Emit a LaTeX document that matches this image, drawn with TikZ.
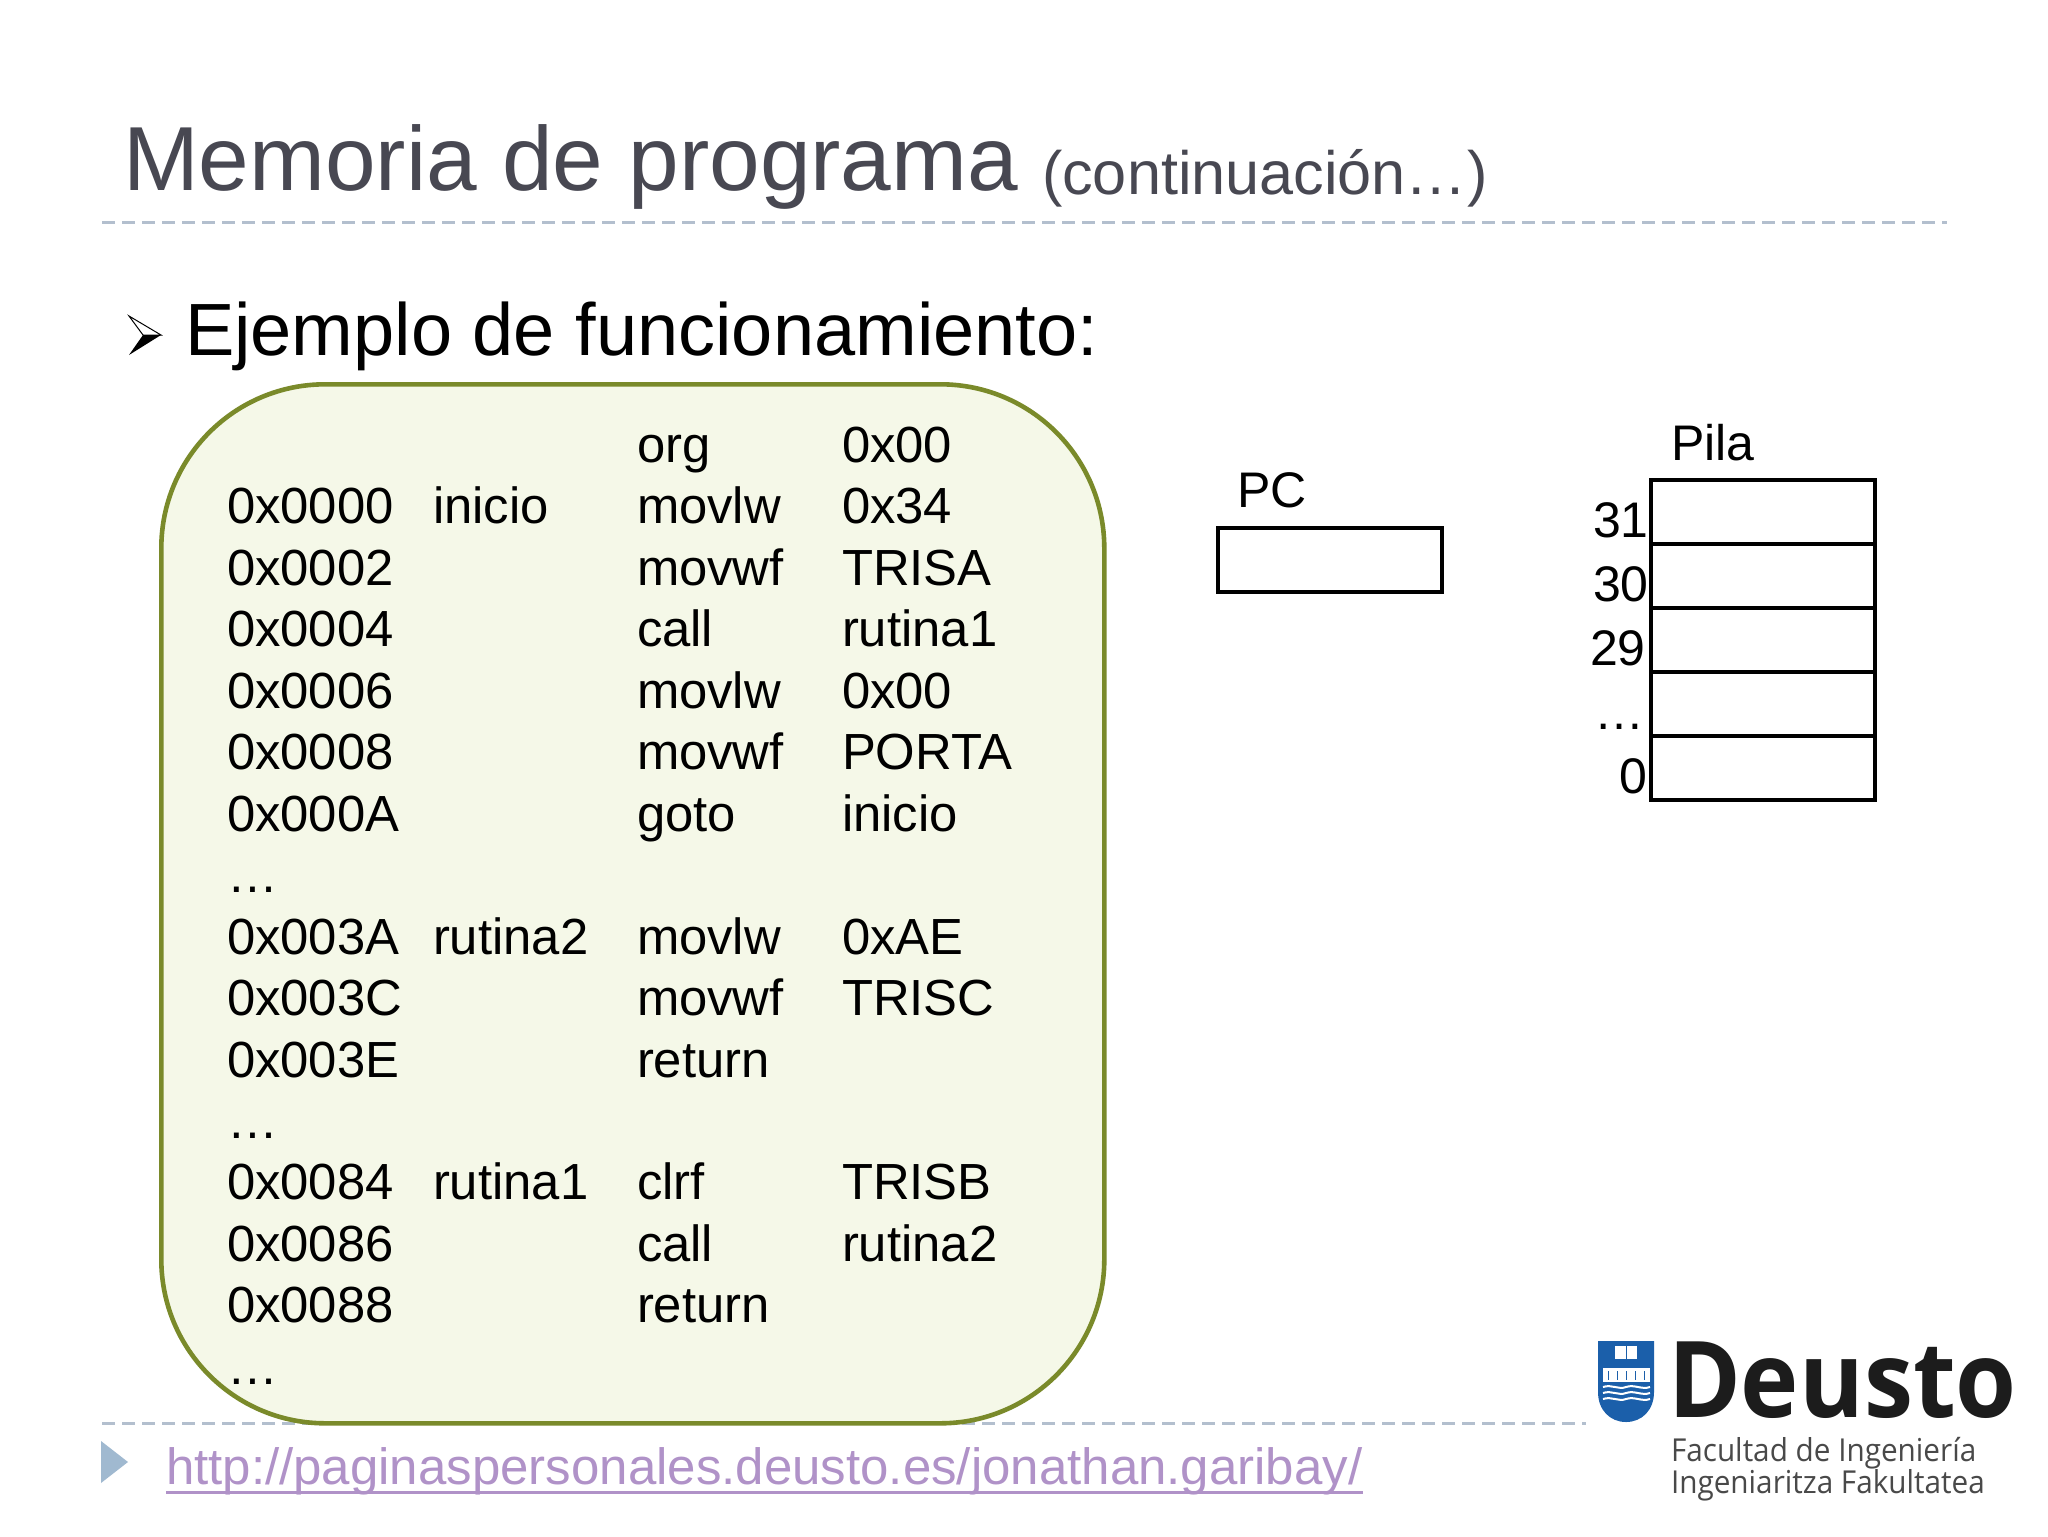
\documentclass[tikz,border=0pt]{standalone}
\usepackage{fontspec}
\setmainfont{Liberation Sans}
\newfontfamily\logofont{Open Sans}
\tikzset{
  x=0.5pt,y=-0.5pt,
  txt/.style={anchor=base west,inner sep=0pt,outer sep=0pt},
  code/.style={txt,font=\fontsize{25.4}{30}\selectfont,text=black},
  lab/.style={txt,font=\fontsize{25}{30}\selectfont,text=black},
  rule/.style={draw=rulecol,line width=1.5pt,dash pattern=on 6.5pt off 3.5pt},
  regbox/.style={draw=black,line width=1.7pt,line join=miter,minimum width=112pt,inner sep=0pt,outer sep=0pt,anchor=north west}
}
\definecolor{rulecol}{HTML}{B3BFCE}
\definecolor{titlecol}{HTML}{484852}
\definecolor{boxfill}{HTML}{F5F8E8}
\definecolor{boxline}{HTML}{7A8A2A}
\definecolor{tricol}{HTML}{A0B9D0}
\definecolor{linkcol}{HTML}{B092C8}
\definecolor{shield}{HTML}{1B5FAA}
\definecolor{logotxt}{HTML}{1C1C1C}
\begin{document}
\begin{tikzpicture}
\useasboundingbox (0,0) rectangle (2048,1536);
\fill[white] (0,0) rectangle (2048,1536);
% rules
\coordinate (rt1) at (102,222); \coordinate (rt2) at (1947,222);
\coordinate (rb1) at (102,1423); \coordinate (rb2) at (1586,1423);
\draw[rule] (rt1) -- (rt2);
\draw[rule] (rb1) -- (rb2);
% title
\node[txt,font=\fontsize{45.5}{50}\selectfont,text=titlecol] (title) at (123,190) {Memoria de programa};
\node[txt,font=\fontsize{30.6}{36}\selectfont,text=titlecol] (cont) at (1042,194) {(continuación…)};
% bullet
\fill[white] (129,316) -- (161,335) -- (143,335) -- cycle;
\draw[black,line width=0.5pt,line join=miter] (129,316) -- (161,335) -- (143,335) -- cycle;
\fill[black] (129,355) -- (161,335) -- (143,335) -- cycle;
\node[txt,font=\fontsize{37}{44}\selectfont,text=black] (head) at (185,355) {Ejemplo de funcionamiento:};
% big box
\node[draw=boxline,fill=boxfill,line width=2.3pt,rounded corners=82pt,inner sep=0pt,minimum width=471.5pt,minimum height=519.5pt,anchor=north west] (mem) at (159,382) {};
% code rows
\foreach \n/\a/\b/\c/\d in {
 0/{}/{}/org/0x00,
 1/0x0000/inicio/movlw/0x34,
 2/0x0002/{}/movwf/TRISA,
 3/0x0004/{}/call/rutina1,
 4/0x0006/{}/movlw/0x00,
 5/0x0008/{}/movwf/PORTA,
 6/0x000A/{}/goto/inicio,
 7/…/{}/{}/{},
 8/0x003A/rutina2/movlw/0xAE,
 9/0x003C/{}/movwf/TRISC,
 10/0x003E/{}/return/{},
 11/…/{}/{}/{},
 12/0x0084/rutina1/clrf/TRISB,
 13/0x0086/{}/call/rutina2,
 14/0x0088/{}/return/{},
 15/…/{}/{}/{}}{
  \pgfmathsetmacro\yy{462.5+61.45*\n}
  \node[code] (addr\n) at (227,\yy) {\a};
  \node[code] (name\n) at (433,\yy) {\b};
  \node[code] (op\n) at (637,\yy) {\c};
  \node[code] (arg\n) at (842,\yy) {\d};
}
% PC
\node[lab] (pclab) at (1237.5,507) {PC};
\node[regbox,minimum height=32pt] (pc) at (1218,528) {};
% stack
\node[lab] (pilalab) at (1671,460) {Pila};
\foreach \i/\y in {0/480,1/544,2/608,3/672,4/736}{
  \node[regbox,minimum height=32pt] (cell\i) at (1651,\y) {};
}
\node[lab] (s31) at (1593,537) {31};
\node[lab] (s30) at (1593,601) {30};
\node[lab] (s29) at (1590,665) {29};
\node[lab] (sdots) at (1594,729) {…};
\node[lab] (s0) at (1619,793) {0};
% footer
\fill[tricol] (101,1441) -- (128,1462) -- (101,1483) -- cycle;
\node[txt,font=\fontsize{25.5}{30}\selectfont,text=linkcol] (link) at (166,1484) {http://paginaspersonales.deusto.es/jonathan.garibay/};
\draw[linkcol,line width=1.5pt] ([yshift=-4pt]link.base west) -- ([yshift=-4pt]link.base east);
% logo shield
\fill[shield] (1598,1341) -- (1654,1341) -- (1654,1392) .. controls (1654,1410) and (1642,1422) .. (1626,1422) .. controls (1610,1422) and (1598,1410) .. (1598,1392) -- cycle;
\fill[white] (1615,1346) rectangle (1637,1359);
\draw[shield,line width=0.5pt] (1626,1346) -- (1626,1359);
\fill[white] (1603,1368) rectangle (1650,1382);
\foreach \u in {1608,1617,1626,1635,1644}{\draw[shield,line width=0.5pt] (\u,1371) -- (\u,1380);}
\foreach \w in {1387,1393,1399}{
  \draw[white,line width=1pt] (1603,\w) .. controls (1612,\w-3) and (1618,\w+3) .. (1626,\w) .. controls (1634,\w-3) and (1642,\w+3) .. (1650,\w);
}
% logo text
\node[txt,font=\logofont\bfseries\fontsize{53}{56}\selectfont,text=logotxt] (deusto) at (1668,1417) {\scalebox{0.93}[1]{Deusto}};
\node[anchor=north west,inner sep=0pt,outer sep=0pt,align=left,font=\logofont\fontsize{15.8}{16}\selectfont,text=logotxt!80] (fac) at (1671,1437) {\scalebox{0.94}[1]{Facultad de Ingeniería}\\\scalebox{0.94}[1]{Ingeniaritza Fakultatea}};
\end{tikzpicture}
\end{document}
